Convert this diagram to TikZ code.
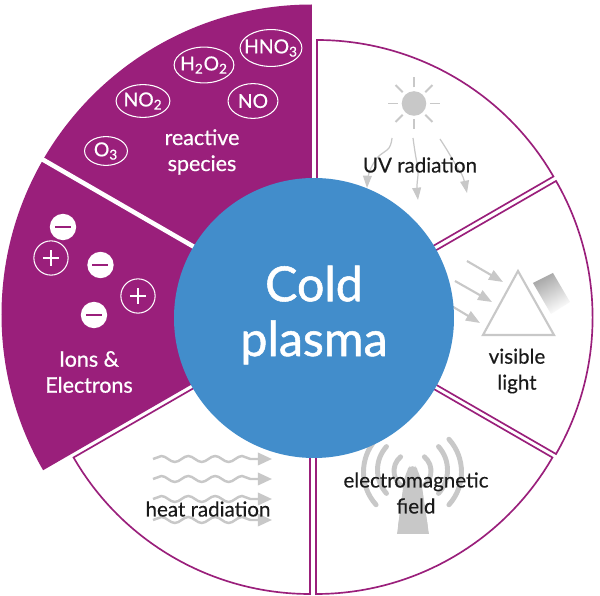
\documentclass[tikz,border=0pt]{standalone}
\usepackage{fontspec}
\setmainfont{Lato}[FakeBold = 0.25]
\newfontfamily\heavyfont{Lato}[FakeBold = 0.7]
\newfontfamily\titlefont{Lato}[FakeBold = 1.1]
\usetikzlibrary{arrows.meta, shapes.geometric, decorations.pathmorphing}

\definecolor{plumfill}{HTML}{9A1F7B}
\definecolor{plasmablue}{HTML}{428DCB}
\definecolor{icongray}{HTML}{C8C8C8}
\definecolor{labelblack}{HTML}{1A1A1A}

\newcommand{\formula}[1]{\makebox[0pt]{#1}}

\tikzset{
	sectorline/.style = {draw = plumfill, line width = 0.95pt, line join = miter, fill = white},
	darklabel/.style = {text = labelblack, align = center, inner sep = 0pt, font = \fontsize{11.7}{14.8}\selectfont},
	lightlabel/.style = {text = white, align = center, inner sep = 0pt, font = \heavyfont\fontsize{12.2}{14.8}\selectfont},
	species/.style = {ellipse, draw = white, line width = 0.6pt, text = white, inner sep = 0pt, font = \heavyfont\fontsize{11}{14}\selectfont},
	minusdot/.style = {circle, fill = white, minimum size = 15pt, inner sep = 0pt},
	plusdot/.style = {circle, draw = white, line width = 0.6pt, minimum size = 19.5pt, inner sep = 0pt},
	signbar/.style = {line width = 0.6pt},
	sunray/.style = {icongray, line width = 1.1pt},
	curlyray/.style = {icongray, line width = 0.7pt, -{Triangle[length = 7pt, width = 5pt]}},
	straightray/.style = {icongray, line width = 1.2pt, -{Triangle[length = 8pt, width = 6pt]}},
	heatwave/.style = {icongray, line width = 1.4pt, -{Triangle[length = 8pt, width = 7pt]},
		decoration = {snake, segment length = 15.3pt, amplitude = 1.7pt, post length = 9pt}, decorate},
	antennaarc/.style = {icongray, line width = 2.8pt, line cap = round}
}

\begin{document}
\begin{tikzpicture}[x = 0.02cm, y = 0.02cm]
	\useasboundingbox (0,0) rectangle (600,596);

	% purple half
	\fill[plumfill] (312,281) -- ++(90:310.5) arc[start angle = 90, end angle = 210, radius = 310.5] -- cycle;
	\draw[white, line width = 2.6pt] (312,281) -- ++(150:316);

	% white sectors
	\path[sectorline] (317,283) -- ++(90:273) arc[start angle = 90, end angle = 30, radius = 273] -- cycle;
	\path[sectorline] (319.6,278.5) -- ++(30:273) arc[start angle = 30, end angle = -30, radius = 273] -- cycle;
	\path[sectorline] (316,275) -- ++(-30:273) arc[start angle = -30, end angle = -90, radius = 273] -- cycle;
	\path[sectorline] (310,275) -- ++(-90:273) arc[start angle = -90, end angle = -150, radius = 273] -- cycle;

	% sun
	\fill[icongray] (414,492.5) circle (12.3);
	\draw[sunray] (430,492.5) -- (440,492.5);
	\draw[sunray] (398,492.5) -- (388,492.5);
	\draw[sunray] (414,508.5) -- (414,518.5);
	\draw[sunray] (414,476.5) -- (414,466.5);
	\draw[sunray] (425.3,503.8) -- (432.4,510.9);
	\draw[sunray] (402.7,503.8) -- (395.6,510.9);
	\draw[sunray] (425.3,481.2) -- (432.4,474.1);
	\draw[sunray] (402.7,481.2) -- (395.6,474.1);
	\draw[curlyray] plot [smooth, tension = 0.6] coordinates { (392,458) (389,448) (377,438) (369,423) (367,408) };
	\draw[curlyray] plot [smooth, tension = 0.6] coordinates { (413,458) (415,444) (418,425) (417,410) (418,396) };
	\draw[curlyray] plot [smooth, tension = 0.6] coordinates { (440,457) (447,446) (457,429) (463,419) (467,403) };

	% prism
	\draw[icongray, line width = 1.2pt] (518,325) -- (483,261) -- (554,261) -- cycle;
	\draw[straightray] (467,335) -- (503,314);
	\draw[straightray] (455,315) -- (492,294);
	\draw[straightray] (450,291) -- (480,273);
	\shade[left color = black!35, right color = white, shading angle = 30] (533,313) -- (553,323) -- (570,294) -- (551,282) -- cycle;

	% antenna
	\fill[icongray, rounded corners = 5pt] (397,62) -- (405,123) -- (412.5,134) -- (420,123) -- (429,62) -- cycle;
	\fill[icongray] (397,62) -- (404,110) -- (421,110) -- (429,62) -- cycle;
	\draw[antennaarc] (412.5,124) ++(42:49) arc[start angle = 42, end angle = -42, radius = 49];
	\draw[antennaarc] (412.5,124) ++(138:49) arc[start angle = 138, end angle = 222, radius = 49];
	\draw[antennaarc] (412.5,126) ++(42:35) arc[start angle = 42, end angle = -42, radius = 35];
	\draw[antennaarc] (412.5,126) ++(138:35) arc[start angle = 138, end angle = 222, radius = 35];
	\draw[antennaarc] (412.5,125) ++(50:18.5) arc[start angle = 50, end angle = -50, radius = 18.5];
	\draw[antennaarc] (412.5,125) ++(130:18.5) arc[start angle = 130, end angle = 230, radius = 18.5];

	% heat waves
	\draw[heatwave] (153,137) -- (272,137);
	\draw[heatwave] (153,117) -- (272,117);
	\draw[heatwave] (153,97) -- (272,97);
	\draw[heatwave] (153,76) -- (272,76);

	% centre
	\fill[plasmablue] (314,278) circle (140);
	\node[text = white, align = center, inner sep = 0pt, font = \titlefont\fontsize{27.5}{31.2}\selectfont] (coldplasma) at (314,281) {Cold\\plasma};

	% labels
	\node[darklabel] (uvlabel) at (420,431) {UV radiation};
	\node[darklabel] (visiblelabel) at (517,225) {visible\\light};
	\node[darklabel] (emlabel) at (416,103) {electromagnetic\\field};
	\node[darklabel] (heatlabel) at (208,87) {heat radiation};
	\node[lightlabel] (reactivelabel) at (202,444) {reactive\\species};
	\node[lightlabel] (ionslabel) at (89,224) {Ions \&\\Electrons};

	% species
	\node[species, minimum width = 35.2pt, minimum height = 21pt] (hno) at (271,548) {\formula{HNO\textsubscript{3}}};
	\node[species, minimum width = 34pt, minimum height = 20.4pt] (hoo) at (204,531) {\formula{H\textsubscript{2}O\textsubscript{2}}};
	\node[species, minimum width = 30.6pt, minimum height = 18.7pt] (notwo) at (143,495) {\formula{NO\textsubscript{2}}};
	\node[species, minimum width = 28.4pt, minimum height = 19.8pt] (noone) at (253,495) {\formula{NO}};
	\node[species, minimum width = 24.4pt, minimum height = 16.4pt] (ozone) at (106,445) {\formula{O\textsubscript{3}}};

	% charges
	\node[minusdot] (minusa) at (63,369) {};
	\node[minusdot] (minusb) at (100.5,331) {};
	\node[minusdot] (minusc) at (94,281) {};
	\begin{scope}[signbar, plumfill]
		\draw (55,369) -- (71,369);
		\draw (92.5,331) -- (108.5,331);
		\draw (86,281) -- (102,281);
	\end{scope}
	\node[plusdot] (plusa) at (51,338) {};
	\node[plusdot] (plusb) at (138,300) {};
	\begin{scope}[signbar, white]
		\draw (43,338) -- (59,338);
		\draw (51,330) -- (51,346);
		\draw (130,300) -- (146,300);
		\draw (138,292) -- (138,308);
	\end{scope}
\end{tikzpicture}
\end{document}
